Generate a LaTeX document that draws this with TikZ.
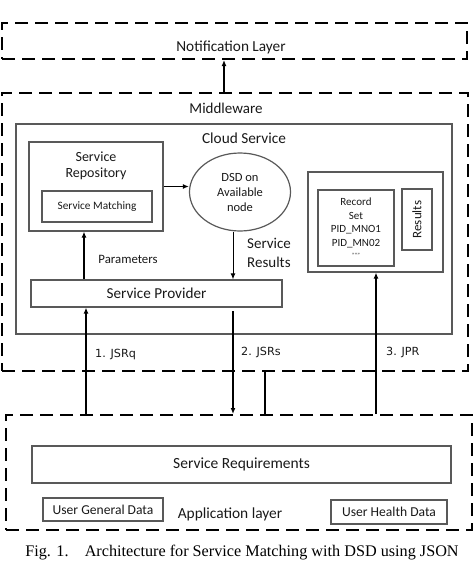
\documentclass[tikz,border=0pt]{standalone}
\usepackage{fontspec}
\setmainfont{Carlito}
\newfontfamily\vfont{DejaVu Sans}
\newfontfamily\capfont{Liberation Serif}
\usetikzlibrary{arrows.meta,shapes.geometric}
\tikzset{
  layer/.style={draw=black,line width=2pt,dash pattern=on 13pt off 7pt,minimum width=#1},
  box/.style={draw=black!65,line width=1.2pt,inner sep=0pt,text=black!90},
  arr/.style={line width=1.8pt,-{Latex[length=6pt,width=5pt]}},
  txt/.style={inner sep=0pt,text=black!90},
}
\begin{document}
\begin{tikzpicture}[x=1pt,y=-1pt]
\useasboundingbox (0,0) rectangle (474,563);
% layers
\node[layer=465pt,minimum height=36pt] (notif) at (234.5,41) {};
\node[txt,font=\fontsize{15.3}{17}\selectfont] (notift) at (231,47) {Notification Layer};
\node[layer=466pt,minimum height=278pt] (mid) at (235,232) {};
\node[txt,font=\fontsize{15}{17}\selectfont] (midt) at (226,108) {Middleware};
\node[box,minimum width=436pt,minimum height=210pt] (cloud) at (234,229) {};
\node[txt,font=\fontsize{15.3}{17}\selectfont] (cloudt) at (244,138) {Cloud Service};
% repository
\node[box,minimum width=134pt,minimum height=89pt] (repo) at (96,186.5) {};
\node[txt,align=center,font=\fontsize{14}{16.5}\selectfont] (repot) at (96,166) {Service\\Repository};
\node[box,minimum width=110pt,minimum height=31pt,font=\fontsize{11.3}{13}\selectfont] (match) at (97,206.5) {Service Matching};
% ellipse
\node[ellipse,draw=black!65,line width=1.2pt,minimum width=101pt,minimum height=78pt,inner sep=0pt,align=center,text=black!90,font=\fontsize{12.5}{15}\selectfont] (ell) at (240,192) {DSD on\\Available\\node};
% service provider
\node[box,minimum width=251pt,minimum height=27pt,font=\fontsize{15.2}{17}\selectfont] (sp) at (156.5,293.5) {Service Provider};
\node[txt,font=\fontsize{12.8}{15}\selectfont] (param) at (128,259) {Parameters};
\node[txt,anchor=west,align=left,font=\fontsize{15}{19}\selectfont] (sres) at (247,252.5) {Service\\Results};
% record set
\node[box,minimum width=135pt,minimum height=100pt] (outer) at (375.5,222) {};
\node[box,minimum width=76pt,minimum height=76pt] (rec) at (356,228) {};
\node[txt,align=center,font=\fontsize{11}{13.5}\selectfont] (rect) at (356,229) {Record\\Set\\PID\_MNO1\\PID\_MN02\\\raisebox{2pt}{\fontsize{6}{6}\selectfont''''''}};
\node[box,minimum width=30pt,minimum height=61pt] (resb) at (417,219.5) {};
\node[txt,rotate=90,font=\fontsize{13}{14}\selectfont] (rest) at (417,219.5) {Results};
% application layer
\node[layer=466pt,minimum height=115pt] (app) at (239,472.5) {};
\node[box,minimum width=419pt,minimum height=37pt,font=\fontsize{15.5}{17}\selectfont] (req) at (241.5,464.5) {Service Requirements};
\node[box,minimum width=120pt,minimum height=23pt,font=\fontsize{13.6}{15}\selectfont] (ugd) at (103,509.5) {User General Data};
\node[box,minimum width=116pt,minimum height=24pt,font=\fontsize{13.6}{15}\selectfont] (uhd) at (389,512) {User Health Data};
\node[txt,font=\fontsize{15.4}{17}\selectfont] (appt) at (230,514) {Application layer};
% labels
\node[txt,anchor=west,font=\vfont\fontsize{11.2}{13}\selectfont] (l1) at (95,355) {1. JSRq};
\node[txt,anchor=west,font=\vfont\fontsize{11.2}{13}\selectfont] (l2) at (241,352) {2. JSRs};
\node[txt,anchor=west,font=\vfont\fontsize{11.2}{13}\selectfont] (l3) at (386,352) {3. JPR};
% caption
\node[txt,text=black,font=\capfont\fontsize{16.2}{18}\selectfont] (cap) at (242,553) {Fig. 1.\quad Architecture for Service Matching with DSD using JSON};
% connectors
\coordinate (xa) at (224,0);
\coordinate (xb) at (84,0);
\coordinate (xc) at (86,0);
\coordinate (xd) at (233,0);
\coordinate (xe) at (265,0);
\coordinate (xf) at (376,0);
\coordinate (ya) at (0,311);
\draw[arr] (xa |- mid.north) -- (xa |- notif.south);
\draw[arr] (repo.east) -- (repo.east -| ell.west);
\draw[line width=1pt,-{Latex[length=6pt,width=5pt]}] (xd |- ell.south) -- (xd |- sp.north);
\draw[arr] (xb |- sp.north) -- (xb |- repo.south);
\draw[arr] (xc |- app.north) -- (xc |- sp.south);
\draw[arr] (xd |- ya) -- (xd |- app.north);
\draw[line width=2pt] (xe |- mid.south) -- (xe |- app.north);
\draw[arr] (xf |- app.north) -- (xf |- outer.south);
\end{tikzpicture}
\end{document}
